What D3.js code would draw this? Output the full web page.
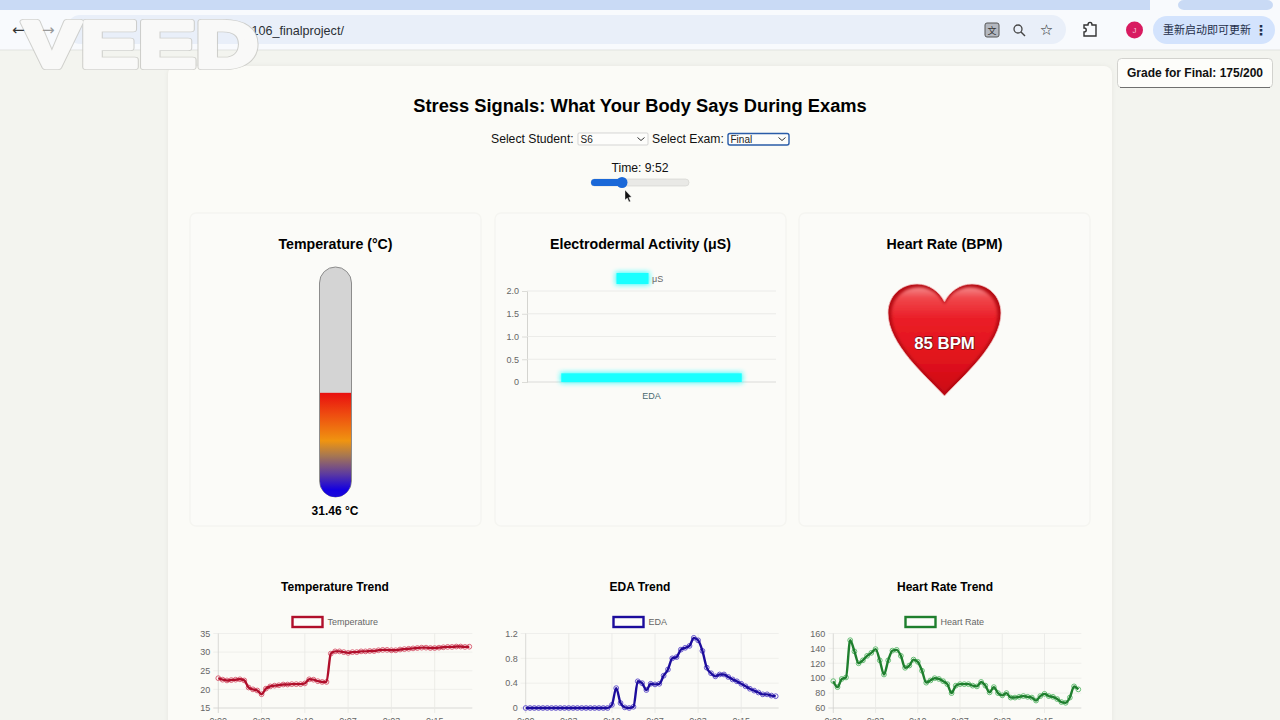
<!DOCTYPE html>
<html>
<head>
<meta charset="utf-8">
<script src="https://cdn.jsdelivr.net/npm/d3@7"></script>
<style>
  html, body { margin: 0; padding: 0; background: #f3f4ef; overflow: hidden; }
  svg { display: block; font-family: "Liberation Sans", Arial, sans-serif; }
</style>
</head>
<body>
<svg id="page" width="1280" height="720"></svg>
<script>
// values
let tempValues = [23, 22.6, 22.4, 22.5, 22.6, 22.7, 22.4, 20.5, 20, 19.7, 18.7, 20.2, 20.8, 21, 21.1, 21.3, 21.3, 21.4, 21.4, 21.4,
  21.6, 22.7, 22.6, 22.2, 22, 22, 29.6, 30.2, 30.2, 30, 29.8, 30, 30, 30.2, 30.2, 30.3, 30.3, 30.5, 30.6, 30.6,
  30.5, 30.5, 30.7, 30.8, 30.9, 31, 31.1, 31.2, 31.2, 31.1, 31.1, 31.2, 31.3, 31.4, 31.4, 31.5, 31.5, 31.4, 31.46]
let edaValues = [0, 0, 0, 0, 0, 0, 0, 0, 0, 0, 0, 0, 0, 0, 0, 0, 0, 0, 0, 0,
  0.05, 0.32, 0.08, 0.01, 0, 0.02, 0.43, 0.4, 0.29, 0.39, 0.38, 0.39, 0.52, 0.62, 0.8, 0.82, 0.94, 0.97, 1, 1.13,
  1.09, 0.92, 0.65, 0.56, 0.51, 0.54, 0.54, 0.5, 0.46, 0.43, 0.39, 0.35, 0.31, 0.28, 0.25, 0.22, 0.22, 0.2, 0.19]
let hrValues = [96, 88, 99, 101, 151, 136, 120, 124, 130, 134, 139, 124, 105, 124, 137, 138, 130, 114, 117, 125,
  122, 110, 94, 97, 100, 99, 96, 92, 80, 90, 92, 92, 92, 90, 89, 95, 90, 81, 88, 80,
  77, 80, 74, 74, 75, 76, 75, 74, 70, 76, 79, 76, 75, 72, 68, 67, 74, 89, 85]
let xTickIndex = [0, 10, 20, 30, 40, 50]
let xTickLabels = ["0:00", "0:03", "0:10", "0:07", "0:03", "0:15"]
let tempTicks = [15, 20, 25, 30, 35]
let edaTicks = [0, 0.4, 0.8, 1.2]
let hrTicks = [60, 80, 100, 120, 140, 160]
let barCategories = ["EDA"]
let barValues = [0.19]
let barTicks = [0, 0.5, 1, 1.5, 2]
let currentTemp = 31.46
let currentBpm = 85

let svg = d3.select("#page")
let defs = svg.append("defs")

let glow = defs.append("filter").attr("id", "glow").attr("x", "-20%").attr("y", "-100%").attr("width", "140%").attr("height", "300%")
glow.append("feGaussianBlur").attr("stdDeviation", 2.6)

let softShadow = defs.append("filter").attr("id", "soft").attr("x", "-5%").attr("y", "-5%").attr("width", "110%").attr("height", "110%")
softShadow.append("feGaussianBlur").attr("stdDeviation", 2)

let heartBlur = defs.append("filter").attr("id", "heartBlur").attr("x", "-10%").attr("y", "-10%").attr("width", "120%").attr("height", "120%")
heartBlur.append("feGaussianBlur").attr("stdDeviation", 1.6)

let tempGrad = defs.append("linearGradient").attr("id", "tempGrad").attr("x1", 0).attr("x2", 0).attr("y1", 0).attr("y2", 1)
tempGrad.selectAll("stop")
  .data([[0, "#e80f0f"], [0.2, "#ee4a10"], [0.46, "#f09410"], [0.6, "#a87850"], [0.78, "#5c3aa0"], [0.93, "#1400e0"], [1, "#1a08d8"]])
  .join("stop")
  .attr("offset", d => d[0])
  .attr("stop-color", d => d[1])

let heartGrad = defs.append("linearGradient").attr("id", "heartGrad").attr("x1", 0).attr("x2", 0).attr("y1", 0).attr("y2", 1)
heartGrad.selectAll("stop")
  .data([[0, "#f4888a"], [0.1, "#f0474c"], [0.3, "#ea1d26"], [0.7, "#e0121c"], [1, "#cc0c14"]])
  .join("stop")
  .attr("offset", d => d[0])
  .attr("stop-color", d => d[1])

// browser chrome
svg.append("rect").attr("width", 1280).attr("height", 50).attr("fill", "#f8fafd")
svg.append("rect").attr("width", 1150).attr("height", 10).attr("fill", "#c9daf5")
svg.append("rect").attr("x", 1178).attr("width", 95).attr("height", 10).attr("rx", 6).attr("fill", "#c9daf5")
svg.append("rect").attr("x", 66).attr("y", 15).attr("width", 1000).attr("height", 29).attr("rx", 14.5).attr("fill", "#e9eff9")
svg.append("line").attr("x1", 0).attr("x2", 1280).attr("y1", 50).attr("y2", 50).attr("stroke", "#e2e3e0")
svg.append("text").attr("x", 251.500).attr("y", 34.500).attr("font-size", 12.6).attr("fill", "#2b2f36").text("106_finalproject/")

svg.append("rect").attr("x", 985).attr("y", 23).attr("width", 14).attr("height", 14).attr("rx", 2).attr("fill", "#b4b8c0").attr("stroke", "#555")
svg.append("text").attr("x", 992).attr("y", 34).attr("text-anchor", "middle").attr("font-size", 9).attr("fill", "#333").attr("font-family", "Noto Sans CJK SC").text("文")
svg.append("circle").attr("cx", 1018).attr("cy", 29).attr("r", 4).attr("fill", "none").attr("stroke", "#444").attr("stroke-width", 1.3)
svg.append("line").attr("x1", 1021).attr("y1", 32).attr("x2", 1025).attr("y2", 36).attr("stroke", "#444").attr("stroke-width", 1.4)
svg.append("text").attr("x", 1046.500).attr("y", 35).attr("text-anchor", "middle").attr("font-size", 15).attr("font-weight", "bold").attr("fill", "#222").attr("font-family", "DejaVu Sans").text("☆")
svg.append("path").attr("d", "M1084 25 H1088 C1088 21.500 1092 21.500 1092 25 H1096 V36 H1084 V32 C1087 32 1087 28 1084 28 Z")
  .attr("fill", "none").attr("stroke", "#333").attr("stroke-width", 1.4)
svg.append("circle").attr("cx", 1134.500).attr("cy", 30).attr("r", 8.500).attr("fill", "#d81b60")
svg.append("text").attr("x", 1134.500).attr("y", 33).attr("text-anchor", "middle").attr("font-size", 8).attr("fill", "#f6c0d4").text("J")
svg.append("rect").attr("x", 1153).attr("y", 16).attr("width", 122).attr("height", 28).attr("rx", 14).attr("fill", "#d3e3fd")
svg.append("text").attr("x", 1163).attr("y", 34).attr("font-size", 11).attr("fill", "#1f2f4a").attr("font-family", "Noto Sans CJK SC").text("重新启动即可更新")
svg.append("text").attr("x", 1261).attr("y", 35).attr("text-anchor", "middle").attr("font-size", 14).attr("font-weight", "bold").attr("fill", "#1f2f4a").attr("font-family", "DejaVu Sans").text("⋮")

// page container
svg.append("rect").attr("x", 168).attr("y", 66).attr("width", 944).attr("height", 680).attr("rx", 8).attr("fill", "#e6e6e0").attr("filter", "url(#soft)")
svg.append("rect").attr("x", 168).attr("y", 66).attr("width", 944).attr("height", 680).attr("rx", 8).attr("fill", "#fbfbf7")

// grade box
svg.append("rect").attr("x", 1117.500).attr("y", 58.500).attr("width", 155).attr("height", 29).attr("rx", 4).attr("fill", "#fdfdfa").attr("stroke", "#c8c8c4").attr("stroke-width", 0.8)
svg.append("line").attr("x1", 1120).attr("x2", 1270).attr("y1", 87.500).attr("y2", 87.500).attr("stroke", "#555").attr("stroke-width", 0.8)
svg.append("text").attr("x", 1195).attr("y", 76.500).attr("text-anchor", "middle").attr("font-size", 12).attr("font-weight", "bold").attr("fill", "#111").text("Grade for Final: 175/200")

svg.append("text").attr("x", 640).attr("y", 112).attr("text-anchor", "middle").attr("font-size", 18.3).attr("font-weight", "bold").attr("fill", "#000").text("Stress Signals: What Your Body Says During Exams")

// controls
svg.append("text").attr("x", 491).attr("y", 143).attr("font-size", 12.2).attr("fill", "#111").text("Select Student:")
svg.append("text").attr("x", 652).attr("y", 143).attr("font-size", 12.2).attr("fill", "#111").text("Select Exam:")
svg.append("rect").attr("x", 578).attr("y", 133).attr("width", 70).attr("height", 12).attr("rx", 1).attr("fill", "#fdfdfb").attr("stroke", "#c4c4c4").attr("stroke-width", 0.7)
svg.append("text").attr("x", 580.500).attr("y", 143).attr("font-size", 10).attr("fill", "#222").text("S6")
svg.append("rect").attr("x", 728).attr("y", 133.500).attr("width", 61).attr("height", 11.500).attr("rx", 2).attr("fill", "#fdfdfb").attr("stroke", "#2a5ca8").attr("stroke-width", 1.4)
svg.append("text").attr("x", 730.500).attr("y", 143).attr("font-size", 10).attr("fill", "#222").text("Final")
let chevron = d3.line()
;[[641, 139], [782, 139]].forEach(function (c) {
  svg.append("path")
    .attr("d", chevron([[c[0] - 3.5, c[1] - 1.5], [c[0], c[1] + 1.5], [c[0] + 3.5, c[1] - 1.5]]))
    .attr("fill", "none").attr("stroke", "#333").attr("stroke-width", 1)
})

svg.append("text").attr("x", 640).attr("y", 172).attr("text-anchor", "middle").attr("font-size", 12.2).attr("fill", "#111").text("Time: 9:52")
svg.append("rect").attr("x", 591).attr("y", 179).attr("width", 98).attr("height", 7).attr("rx", 3.5).attr("fill", "#e9e9e6").attr("stroke", "#d0d0cc").attr("stroke-width", 0.6)
svg.append("rect").attr("x", 591).attr("y", 179).attr("width", 31).attr("height", 7).attr("rx", 3.5).attr("fill", "#1a68d8")
svg.append("circle").attr("cx", 622).attr("cy", 182.500).attr("r", 5.500).attr("fill", "#1a68d8")
svg.append("path").attr("d", "M625 190 L625 200 L627.3 198 L629 202 L630.5 201.300 L628.8 197.500 L631.500 197 Z").attr("fill", "#111").attr("stroke", "#fff").attr("stroke-width", 0.4)

// three top cards
let cardX = [190, 495, 799]
let cardTitles = ["Temperature (°C)", "Electrodermal Activity (μS)", "Heart Rate (BPM)"]
cardX.forEach(function (x, i) {
  svg.append("rect").attr("x", x).attr("y", 213).attr("width", 291).attr("height", 313).attr("rx", 6)
    .attr("fill", "#fbfbf8").attr("stroke", "#f5f5f1").attr("stroke-width", 1.5)
  svg.append("text").attr("x", x + 145.500).attr("y", 249).attr("text-anchor", "middle")
    .attr("font-size", 14.2).attr("font-weight", "bold").attr("fill", "#000").text(cardTitles[i])
})

// thermometer
let thermoY = d3.scaleLinear().domain([20, 45.3]).range([497, 267])
svg.append("rect").attr("x", 319.500).attr("y", thermoY(45.3)).attr("width", 32).attr("height", thermoY(20) - thermoY(45.3))
  .attr("rx", 16).attr("fill", "#d4d4d4").attr("stroke", "#8c8c8c").attr("stroke-width", 1)
defs.append("clipPath").attr("id", "thermoClip").append("rect")
  .attr("x", 320).attr("y", thermoY(45.3)).attr("width", 31).attr("height", thermoY(20) - thermoY(45.3)).attr("rx", 15.500)
svg.append("rect").attr("x", 320).attr("y", thermoY(currentTemp)).attr("width", 31)
  .attr("height", thermoY(20) - thermoY(currentTemp))
  .attr("fill", "url(#tempGrad)").attr("clip-path", "url(#thermoClip)")
svg.append("text").attr("x", 335).attr("y", 515).attr("text-anchor", "middle").attr("font-size", 12).attr("font-weight", "bold").attr("fill", "#000").text(currentTemp + " °C")

// EDA bar
let barX = d3.scaleBand().domain(barCategories).range([527, 776]).paddingOuter(0.19).paddingInner(0)
let barY = d3.scaleLinear().domain([0, 2]).range([382, 291])
let barAxis = svg.append("g").attr("transform", "translate(527,0)")
  .call(d3.axisLeft(barY).tickValues(barTicks).tickSize(5).tickFormat(d => d === 0 ? "0" : d3.format(".1f")(d)))
barAxis.select(".domain").attr("stroke", "#d4d4d0")
barAxis.selectAll(".tick line").attr("stroke", "#dcdcd8")
barAxis.selectAll(".tick text").attr("font-size", 9).attr("fill", "#666").attr("font-family", "Liberation Sans")
svg.append("g").selectAll("line").data(barTicks).join("line")
  .attr("x1", 527).attr("x2", 776)
  .attr("y1", d => barY(d)).attr("y2", d => barY(d))
  .attr("stroke", d => d === 0 ? "#d4d4d0" : "#e8e8e4").attr("stroke-width", 0.8)
svg.append("rect").attr("x", 616.500).attr("y", 273).attr("width", 32).attr("height", 11)
  .attr("fill", "#19ffff").attr("stroke", "#19ffff").attr("stroke-width", 2).attr("filter", "url(#glow)").attr("opacity", 0.8)
svg.append("rect").attr("x", 616.500).attr("y", 273).attr("width", 32).attr("height", 11).attr("fill", "#19ffff")
svg.append("text").attr("x", 652).attr("y", 282).attr("font-size", 9).attr("fill", "#666").text("μS")
svg.append("g").selectAll("rect").data(barValues).join("rect")
  .attr("x", (d, i) => barX(barCategories[i]))
  .attr("y", d => barY(d))
  .attr("width", barX.bandwidth())
  .attr("height", d => barY(0) - barY(d))
  .attr("fill", "#19ffff").attr("stroke", "#19ffff").attr("stroke-width", 2).attr("filter", "url(#glow)").attr("opacity", 0.8)
svg.append("g").selectAll("rect").data(barValues).join("rect")
  .attr("x", (d, i) => barX(barCategories[i]))
  .attr("y", d => barY(d))
  .attr("width", barX.bandwidth())
  .attr("height", d => barY(0) - barY(d))
  .attr("fill", "#19ffff")
svg.append("text").attr("x", barX("EDA") + barX.bandwidth() / 2).attr("y", 399).attr("text-anchor", "middle").attr("font-size", 9).attr("fill", "#4a6a70").text("EDA")

// heart icon, outer edge then a softer inner layer
let heartPath = "M944.500 396 C926 376 888 344 888 313 C888 296 901 284 917 284 C929 284 939 291 944.500 302 C950 291 960 284 972 284 C988 284 1001 296 1001 313 C1001 344 963 376 944.500 396 Z"
svg.append("path").attr("d", heartPath).attr("fill", "#b50a12").attr("stroke", "#f4c8c8").attr("stroke-width", 0.8)
svg.append("path").attr("d", heartPath)
  .attr("transform", "translate(944.500,337) scale(0.94) translate(-944.500,-337)")
  .attr("fill", "url(#heartGrad)").attr("filter", "url(#heartBlur)")
svg.append("text").attr("x", 944.500).attr("y", 349).attr("text-anchor", "middle").attr("font-size", 16.8).attr("font-weight", "bold")
  .attr("fill", "#fff").attr("stroke", "#7a1014").attr("stroke-width", 1.4).attr("paint-order", "stroke").text(currentBpm + " BPM")

// trend charts
function drawTrend(o) {
  let x = d3.scaleLinear().domain([0, o.values.length - 1]).range([o.left, o.right])
  let y = d3.scaleLinear().domain(o.domain).range([708, 633.500])
  let g = svg.append("g")

  g.append("text").attr("x", o.cx).attr("y", 591).attr("text-anchor", "middle")
    .attr("font-size", 12).attr("font-weight", "bold").attr("fill", "#000").text(o.title)

  g.append("g").selectAll("line").data(o.ticks).join("line")
    .attr("x1", o.left - 5).attr("x2", o.right + 3)
    .attr("y1", d => y(d)).attr("y2", d => y(d))
    .attr("stroke", d => d === o.domain[0] ? "#d2d2ce" : "#ecece8").attr("stroke-width", 0.8)
  g.append("g").selectAll("line").data(xTickIndex).join("line")
    .attr("x1", d => x(d)).attr("x2", d => x(d))
    .attr("y1", 633.500).attr("y2", 713)
    .attr("stroke", d => d === 0 ? "#d2d2ce" : "#e8e8e4").attr("stroke-width", 0.8)

  g.append("g").selectAll("text").data(o.ticks).join("text")
    .attr("x", o.left - 8).attr("y", d => y(d) + 3.200).attr("text-anchor", "end")
    .attr("font-size", 9).attr("fill", "#666").text(d => d === 0 ? "0" : o.format(d))
  g.append("g").selectAll("text").data(xTickIndex).join("text")
    .attr("x", d => x(d)).attr("y", 724).attr("text-anchor", "middle")
    .attr("font-size", 9).attr("fill", "#666").text((d, i) => xTickLabels[i])

  g.append("rect").attr("x", o.legendX).attr("y", 617).attr("width", 30).attr("height", 10)
    .attr("fill", "#fdfdfb").attr("stroke", o.color).attr("stroke-width", 2.4)
  g.append("text").attr("x", o.legendX + 35).attr("y", 625).attr("font-size", 9).attr("fill", "#666").text(o.label)

  let line = d3.line().x((d, i) => x(i)).y(d => y(d)).curve(d3.curveMonotoneX)
  g.selectAll("circle").data(o.values).join("circle")
    .attr("cx", (d, i) => x(i)).attr("cy", d => y(d)).attr("r", 2.400)
    .attr("fill", "#fbfbf7").attr("fill-opacity", 0.4).attr("stroke", o.glow).attr("stroke-width", 0.9)
  g.append("path").attr("d", line(o.values)).attr("fill", "none").attr("stroke", o.color).attr("stroke-width", 2.4)
}

drawTrend({ title: "Temperature Trend", label: "Temperature", cx: 335, left: 218.300, right: 469.300, legendX: 292.500,
  values: tempValues, domain: [15, 35], ticks: tempTicks, color: "#b00f2b", glow: "#d8566c", format: d3.format("d") })
drawTrend({ title: "EDA Trend", label: "EDA", cx: 640, left: 525.700, right: 775.700, legendX: 613.500,
  values: edaValues, domain: [0, 1.2], ticks: edaTicks, color: "#1c0c9c", glow: "#5a48c8", format: d3.format(".1f") })
drawTrend({ title: "Heart Rate Trend", label: "Heart Rate", cx: 945, left: 833.300, right: 1078.300, legendX: 905.500,
  values: hrValues, domain: [60, 160], ticks: hrTicks, color: "#1f7f2e", glow: "#58b868", format: d3.format("d") })

// video watermark sits over the toolbar, the nav arrows stay readable on top
let mark = svg.append("g").attr("transform", "translate(23,66.500) scale(1.35,1)")
  .attr("font-size", 64).attr("font-weight", "bold").attr("stroke-linejoin", "round")
mark.append("text").attr("fill", "#c9c9c5").attr("stroke", "#c9c9c5").attr("stroke-width", 6).attr("opacity", 0.85).text("VEED")
mark.append("text").attr("fill", "#fbfbfa").attr("stroke", "#fbfbfa").attr("stroke-width", 4.4).attr("opacity", 0.97).text("VEED")
svg.append("text").attr("x", 12).attr("y", 35).attr("font-size", 15).attr("fill", "#333").attr("font-family", "DejaVu Sans").text("←")
svg.append("text").attr("x", 42).attr("y", 35).attr("font-size", 15).attr("fill", "#999").attr("font-family", "DejaVu Sans").text("→")
</script>
</body>
</html>
